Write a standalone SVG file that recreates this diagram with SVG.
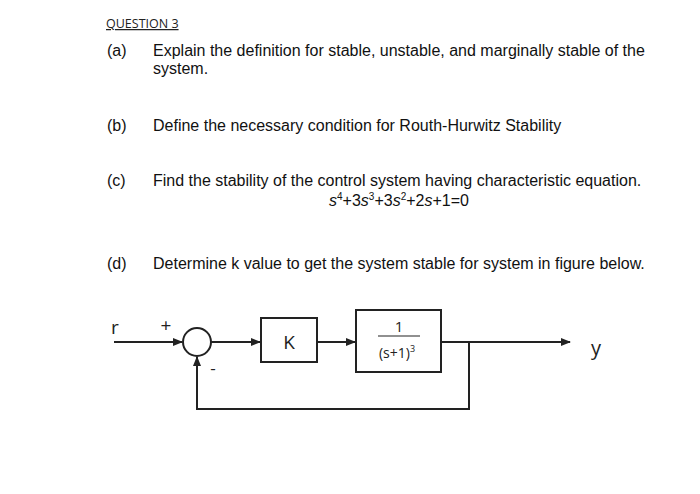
<svg xmlns="http://www.w3.org/2000/svg" width="700" height="494" viewBox="0 0 700 494">
<style>
.t{font-family:"Liberation Sans",Arial,sans-serif;font-size:16px;fill:#111}
.d{font-family:"Open Sans","DejaVu Sans",sans-serif;fill:#222}
.l{stroke:#222;stroke-width:2;fill:none}
</style>
<defs><marker id="a" markerWidth="10" markerHeight="8" refX="9" refY="4" orient="auto" markerUnits="userSpaceOnUse"><path d="M0,0 L10,4 L0,8 z" fill="#222"/></marker></defs>
<rect width="700" height="494" fill="#fff"/>
<text x="106" y="28" class="d" font-size="12.5" text-decoration="underline">QUESTION 3</text>
<text class="t"><tspan x="107" y="56">(a)</tspan><tspan x="153" y="56">Explain the definition for stable, unstable, and marginally stable of the</tspan><tspan x="153" y="74">system.</tspan>
<tspan x="107" y="131">(b)</tspan><tspan x="153" y="131">Define the necessary condition for Routh-Hurwitz Stability</tspan>
<tspan x="107" y="186">(c)</tspan><tspan x="153" y="186">Find the stability of the control system having characteristic equation.</tspan>
<tspan x="107" y="269">(d)</tspan><tspan x="153" y="269">Determine k value to get the system stable for system in figure below.</tspan></text>
<text x="329" y="206" class="t"><tspan font-style="italic">s</tspan><tspan font-size="10" dy="-6">4</tspan><tspan dy="6">+3</tspan><tspan font-style="italic">s</tspan><tspan font-size="10" dy="-6">3</tspan><tspan dy="6">+3</tspan><tspan font-style="italic">s</tspan><tspan font-size="10" dy="-6">2</tspan><tspan dy="6">+2</tspan><tspan font-style="italic">s</tspan><tspan>+1=0</tspan></text>
<g id="connectors">
<path class="l" d="M114,342 H182" marker-end="url(#a)"/>
<path class="l" d="M211,342 H260" marker-end="url(#a)"/>
<path class="l" d="M317,342 H355" marker-end="url(#a)"/>
<path class="l" d="M441,342 H570" marker-end="url(#a)"/>
<path class="l" d="M469,342 V409 H197 V357" marker-end="url(#a)"/>
</g>
<g id="sum"><circle cx="197" cy="342" r="14" class="l"/></g>
<g id="K"><rect x="261" y="318" width="56" height="44" class="l"/><text x="289" y="349" class="d" font-size="19" text-anchor="middle">K</text></g>
<g id="G"><rect x="356" y="310" width="85" height="62" class="l"/><text x="399" y="332" class="d" font-size="15" text-anchor="middle">1</text><line x1="378" y1="336" x2="420" y2="336" stroke="#222" stroke-width="1.2"/><text x="397" y="358" class="d" font-size="14" text-anchor="middle">(s+1)<tspan font-size="9" dy="-6">3</tspan></text></g>
<text x="115" y="334" class="d" font-size="19" text-anchor="middle">r</text>
<text x="166" y="332" class="d" font-size="19" text-anchor="middle">+</text>
<text x="213" y="374" class="d" font-size="17" text-anchor="middle">-</text>
<text x="596" y="355" class="d" font-size="20" text-anchor="middle">y</text>
</svg>
